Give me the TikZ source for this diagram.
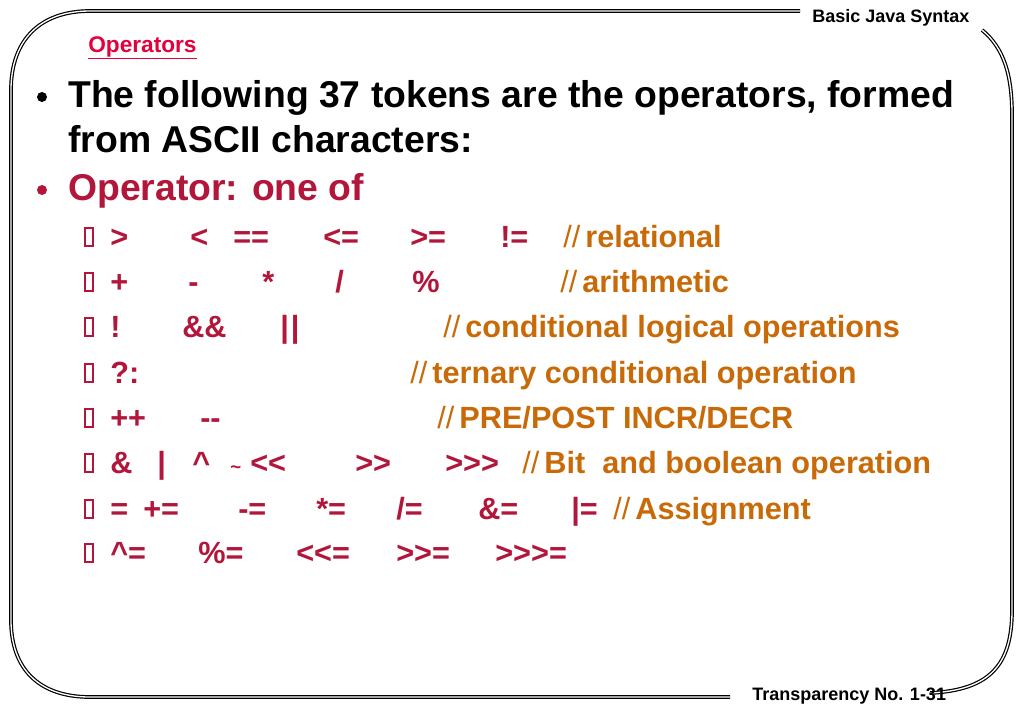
\documentclass[tikz,border=0pt]{standalone}
\usepackage{fontspec}
\setmainfont{Liberation Sans}
\newfontfamily\opfont{Liberation Sans}
\definecolor{oprred}{HTML}{B2163A}
\definecolor{headred}{HTML}{E4003A}
\definecolor{cmtorange}{HTML}{C86A08}
\tikzset{
  frame/.style={draw=black, double=white, double distance=1pt, line width=0.9pt},
  big/.style={anchor=base west, inner sep=0pt, font=\bfseries\fontsize{28}{28}\selectfont},
  opr/.style={anchor=base west, inner sep=0pt, text=oprred, font=\opfont\bfseries\fontsize{23}{23}\selectfont},
  cmt/.style={anchor=base west, inner sep=0pt, text=cmtorange, font=\bfseries\fontsize{23}{23}\selectfont},
  small/.style={anchor=base west, inner sep=0pt, font=\bfseries\fontsize{13.5}{13.5}\selectfont}
}
\newcommand{\slashes}{{\mdseries//}\,}
\begin{document}
\begin{tikzpicture}[x=0.75pt, y=-0.75pt]
  \useasboundingbox (0,0) rectangle (1023,708);

  % Frame
  \draw[frame] (800,11) -- (90,11) .. controls (40,11) and (11,40) .. (11,90) -- (11,620)
    .. controls (11,670) and (40,697) .. (90,697) -- (730,697);
  \draw[frame] (982,30) .. controls (1004,48) and (1012,75) .. (1012,115) -- (1012,610)
    .. controls (1012,665) and (990,690) .. (930,693);

  % Header and footer
  \node[small] (title) at (812,22) {Basic Java Syntax};
  \node[small] (footer) at (752,700) {Transparency No. 1-31};
  \node[anchor=base west, inner sep=0pt, text=headred, font=\bfseries\fontsize{17}{17}\selectfont] (heading) at (88,52) {\underline{Operators}};

  % Bullets
  \fill (42,97) circle (5);
  \node[big] (intro1) at (68,107) {The following 37 tokens are the operators, formed};
  \node[big] (intro2) at (68,152) {from ASCII characters:};
  \fill[oprred] (42,190) circle (5);
  \node[big, text=oprred] (oneof) at (68,200) {Operator: one of};

  % Sub-item markers
  \foreach \y in {247,292,337,383,428,473,519,563}
    \draw[oprred, line width=1pt] (85,\y-19) rectangle (93,\y-1);

  % Rows of operators
  \foreach \x/\t [count=\i] in {110/>, 190/<, 233/==, 323/<=, 410/>=, 500/!=}
    \node[opr] (ra\i) at (\x,247) {\t};
  \node[cmt] (ca) at (563,247) {\slashes relational};

  \foreach \x/\t [count=\i] in {110/+, 188/-, 262/*, 335/{/}, 412/\%}
    \node[opr] (rb\i) at (\x,292) {\t};
  \node[cmt] (cb) at (560,292) {\slashes arithmetic};

  \foreach \x/\t [count=\i] in {110/!, 182/\&\&, 280/{|\kern1.5pt|}}
    \node[opr] (rc\i) at (\x,337) {\t};
  \node[cmt] (cc) at (443,337) {\slashes conditional logical operations};

  \node[opr] (rd1) at (110,383) {?:};
  \node[cmt] (cd) at (410,383) {\slashes ternary conditional operation};

  \foreach \x/\t [count=\i] in {110/++, 200/--}
    \node[opr] (re\i) at (\x,428) {\t};
  \node[cmt] (ce) at (437,428) {\slashes PRE/POST INCR/DECR};

  \foreach \x/\t [count=\i] in {110/\&, 157/|, 192/\textasciicircum, 250/<<, 355/>>, 445/>>>}
    \node[opr] (rf\i) at (\x,473) {\t};
  \node[opr, font=\opfont\bfseries\fontsize{14}{14}\selectfont] (rftilde) at (230,473) {\textasciitilde};
  \node[cmt] (cf) at (522,473) {\slashes Bit\ \ and boolean operation};

  \foreach \x/\t [count=\i] in {110/=, 143/+=, 238/-=, 316/*=, 396/{/=}, 478/\&=, 571/|=}
    \node[opr] (rg\i) at (\x,519) {\t};
  \node[cmt] (cg) at (613,519) {\slashes Assignment};

  \foreach \x/\t [count=\i] in {110/\textasciicircum=, 198/\%=, 296/<<=, 396/>>=, 495/>>>=}
    \node[opr] (rh\i) at (\x,563) {\t};

\end{tikzpicture}
\end{document}
